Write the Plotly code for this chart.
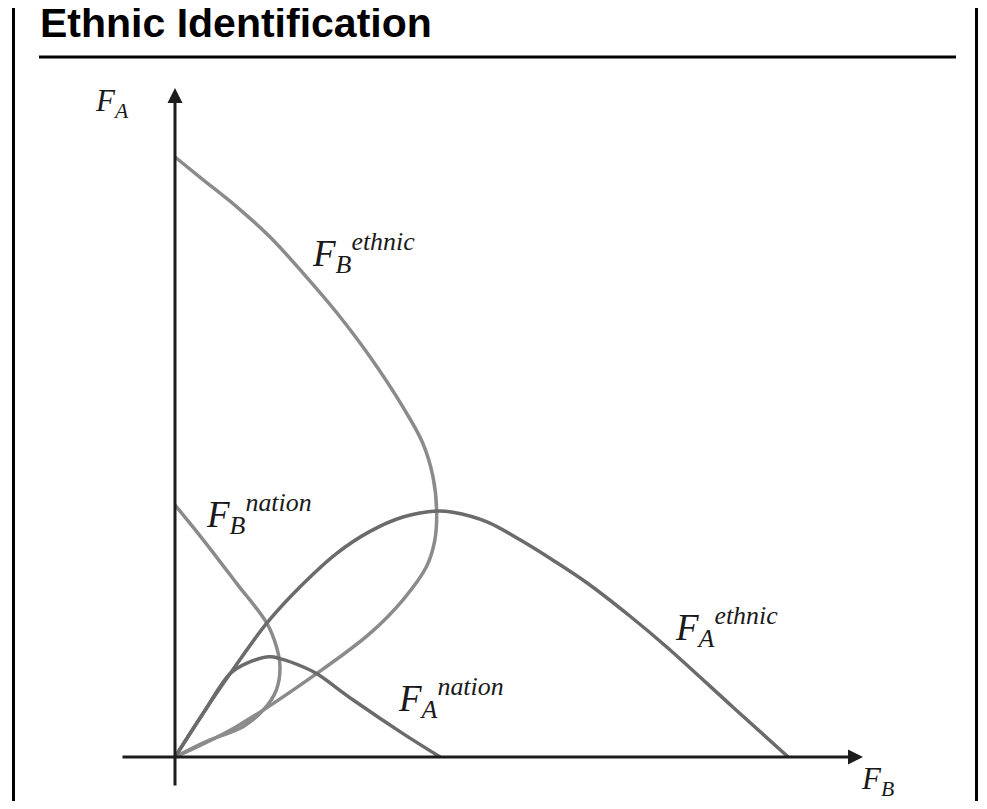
import plotly.graph_objects as go

# values, in units of 60 px, origin where the axes cross
# F_B^ethnic (light grey, bends back like a nose)
fb_ethnic_x = [0, 0.47, 1.03, 1.58, 2.13, 2.7, 3.25, 3.8, 4.13, 4.3, 4.36,
               4.33, 4.19, 3.8, 3.25, 2.36, 1.03, 0]
fb_ethnic_y = [10.0, 9.62, 9.17, 8.67, 8.07, 7.4, 6.67, 5.83, 5.23, 4.67, 4.12,
               3.61, 3.17, 2.62, 2.06, 1.39, 0.51, 0]

# F_A^ethnic (dark grey hump)
fa_ethnic_x = [0, 0.47, 0.92, 1.53, 2.14, 2.69, 3.25, 3.8, 4.36, 4.63, 5.2, 5.75,
               6.3, 6.87, 7.58, 8.2, 9.3, 10.22]
fa_ethnic_y = [0, 0.73, 1.39, 2.23, 2.89, 3.39, 3.76, 4.0, 4.1, 4.08, 3.92, 3.62,
               3.28, 2.9, 2.35, 1.83, 0.83, 0]

# F_B^nation (light grey, small nose)
fb_nation_x = [0, 0.47, 1.03, 1.53, 1.69, 1.75, 1.69, 1.47, 1.14, 0.5, 0]
fb_nation_y = [4.2, 3.62, 2.89, 2.23, 1.84, 1.5, 1.12, 0.78, 0.51, 0.25, 0]

# F_A^nation (dark grey, small hump)
fa_nation_x = [0, 0.47, 0.92, 1.19, 1.58, 1.75, 2.14, 2.36, 2.97, 3.8, 4.42]
fa_nation_y = [0, 0.73, 1.39, 1.56, 1.67, 1.64, 1.5, 1.39, 0.95, 0.39, 0]

M = 8              # browser body margin, the figure starts 8 px in
W, H = 987 - M, 809 - 2 * M
S = 60.0           # px per unit
OX, OY = 175, 757  # origin in px of the page

LIGHT = "#8b8b8b"
DARK = "#6b6b6b"
SERIF = "Liberation Serif, Times New Roman, serif"


def px2x(p):
    return (p - OX) / S


def py2y(p):
    return (OY - p) / S


def px2paper(p):
    return (p - M) / W


def py2paper(p):
    return 1 - (p - M) / H


fig = go.Figure()


def curve(x, y, color):
    fig.add_trace(go.Scatter(
        x=x, y=y, mode="lines",
        line=dict(color=color, width=3.5, shape="spline", smoothing=1.0),
        hoverinfo="skip", showlegend=False,
    ))


curve(fb_ethnic_x, fb_ethnic_y, LIGHT)
curve(fb_nation_x, fb_nation_y, LIGHT)
curve(fa_ethnic_x, fa_ethnic_y, DARK)
curve(fa_nation_x, fa_nation_y, DARK)

# axes with arrow heads
axis_col = "#1c1c1c"
fig.add_annotation(x=0, y=py2y(88), ax=0, ay=py2y(787), xref="x", yref="y",
                   axref="x", ayref="y", text="", showarrow=True,
                   arrowhead=2, arrowsize=1, arrowwidth=3, arrowcolor=axis_col)
fig.add_annotation(x=px2x(863), y=0, ax=px2x(121), ay=0, xref="x", yref="y",
                   axref="x", ayref="y", text="", showarrow=True,
                   arrowhead=2, arrowsize=1, arrowwidth=3, arrowcolor=axis_col)

labels = [
    ("<i>F<sub>A</sub></i>", 93, 103, 31),
    ("<i>F<sub>B</sub></i>", 859, 781, 31),
    ("<i>F<sub>B</sub><sup>ethnic</sup></i>", 310, 253, 37),
    ("<i>F<sub>B</sub><sup>nation</sup></i>", 204, 514, 37),
    ("<i>F<sub>A</sub><sup>nation</sup></i>", 396, 698, 37),
    ("<i>F<sub>A</sub><sup>ethnic</sup></i>", 673, 627, 37),
]
for txt, lx, ly, size in labels:
    fig.add_annotation(x=px2x(lx), y=py2y(ly), xref="x", yref="y", text=txt,
                       showarrow=False, xanchor="left", yanchor="middle",
                       font=dict(family=SERIF, size=size, color="#1a1a1a"))

# title, rule and frame (right edge of the page is clipped near 979 px)
fig.add_annotation(x=px2paper(38), y=py2paper(23), xref="paper", yref="paper",
                   text="<b>Ethnic Identification</b>", showarrow=False,
                   xanchor="left", yanchor="middle",
                   font=dict(family="Liberation Sans, Arial, sans-serif", size=41, color="black"))
fig.add_shape(type="line", xref="paper", yref="paper", x0=px2paper(39), x1=px2paper(956),
              y0=py2paper(57), y1=py2paper(57), line=dict(color="black", width=3))
for bx in (13.5, 976.5):
    fig.add_shape(type="line", xref="paper", yref="paper", x0=px2paper(bx), x1=px2paper(bx),
                  y0=0, y1=1, line=dict(color="black", width=3))

fig.update_layout(
    width=W, height=H,
    margin=dict(l=0, r=0, t=0, b=0, pad=0),
    paper_bgcolor="white", plot_bgcolor="white",
    xaxis=dict(visible=False, range=[px2x(M), px2x(M + W)], fixedrange=True),
    yaxis=dict(visible=False, range=[py2y(M + H), py2y(M)], fixedrange=True),
    showlegend=False,
)

fig.write_html("out.html")
